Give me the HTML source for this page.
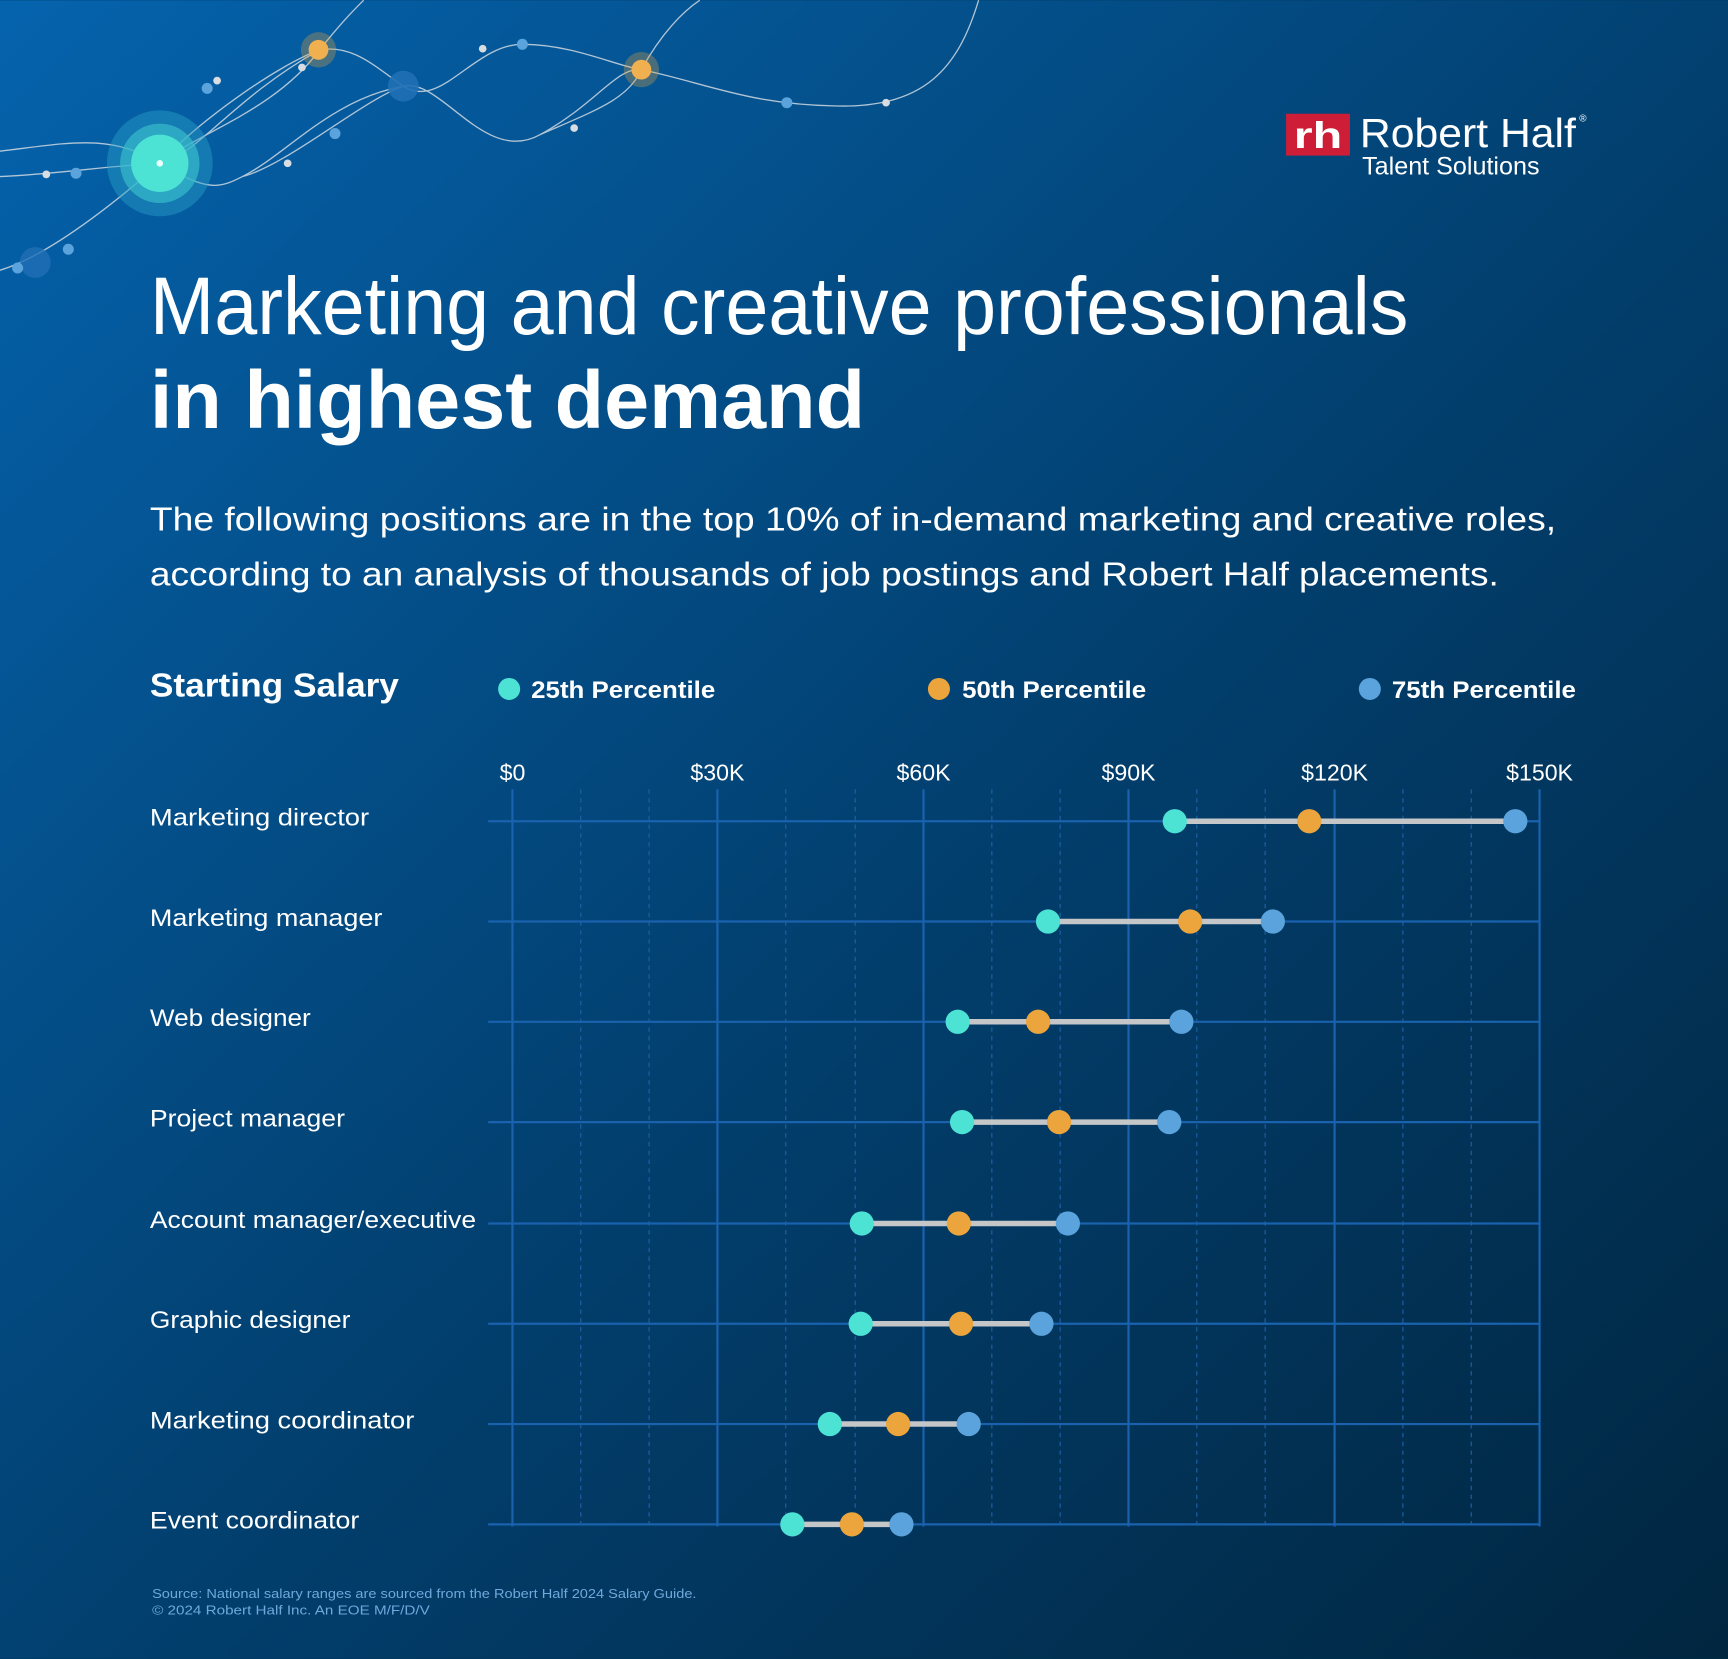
<!DOCTYPE html>
<html><head><meta charset="utf-8"><style>html,body{margin:0;padding:0;background:#013150}svg{display:block}text{font-family:"Liberation Sans","DejaVu Sans",sans-serif;fill:#fff}</style></head>
<body>
<svg width="1728" height="1659" viewBox="0 0 1568 1505" xmlns="http://www.w3.org/2000/svg">
<defs>
<linearGradient id="bg" x1="0" y1="0" x2="1" y2="1">
<stop offset="0" stop-color="#0563ad"/><stop offset="0.55" stop-color="#023e6c"/><stop offset="1" stop-color="#012640"/>
</linearGradient>
</defs>
<rect width="1568" height="1505" fill="url(#bg)"/>
<g fill="none" stroke="#cfd8e0" stroke-width="1.2" opacity="0.85">
<path d="M0,137 C60,130 100,120 145,148 C190,175 200,170 220,160 C260,140 300,90 366,78 C400,70 440,150 490,122 C540,95 560,60 582,63 C640,75 680,95 760,96 C840,98 870,60 888,0"/>
<path d="M0,160 C50,158 100,150 145,148 C180,140 210,90 290,45 C320,40 340,60 366,78 C400,100 430,40 474,40 C520,40 560,60 582,63"/>
<path d="M0,245 C50,230 120,170 145,148 C180,110 250,60 290,45"/>
<path d="M145,148 C180,120 250,100 290,45 C310,20 320,10 330,0"/>
<path d="M220,160 C260,150 330,90 366,78"/>
<path d="M490,122 C540,100 570,90 582,63 C600,30 620,10 635,0"/>
</g>
<circle cx="145" cy="148" r="48" fill="#2aa0c8" opacity="0.45"/>
<circle cx="145" cy="148" r="36" fill="#38bccc" opacity="0.7"/>
<circle cx="145" cy="148" r="26" fill="#4de3d4"/>
<circle cx="145" cy="148" r="3" fill="#e8fffc"/>
<circle cx="289" cy="45" r="16" fill="#eba53c" opacity="0.3"/>
<circle cx="289" cy="45" r="9" fill="#f0b050"/>
<circle cx="582" cy="63" r="16" fill="#eba53c" opacity="0.3"/>
<circle cx="582" cy="63" r="9" fill="#f0b050"/>
<circle cx="366" cy="78" r="14" fill="#1f6fb5" opacity="0.9"/>
<circle cx="32" cy="238" r="14" fill="#1f6fb5" opacity="0.8"/>
<g fill="#5aa3dc"><circle cx="188" cy="80" r="5"/><circle cx="69" cy="157" r="5"/><circle cx="304" cy="121" r="5"/><circle cx="474" cy="40" r="5"/><circle cx="714" cy="93" r="5"/><circle cx="62" cy="226" r="5"/><circle cx="16" cy="243" r="5"/></g>
<g fill="#d8dde2"><circle cx="197" cy="73" r="3.5"/><circle cx="42" cy="158" r="3.5"/><circle cx="274" cy="61" r="3.5"/><circle cx="261" cy="148" r="3.5"/><circle cx="438" cy="44" r="3.5"/><circle cx="521" cy="116" r="3.5"/><circle cx="804" cy="93" r="3.5"/></g>
<rect x="1167" y="103" width="58" height="38" fill="#ce1e37"/>
<text x="1196" y="134" text-anchor="middle" font-size="34" font-weight="bold" textLength="44" lengthAdjust="spacingAndGlyphs">rh</text>
<text x="1234" y="133" font-size="37" textLength="196" lengthAdjust="spacingAndGlyphs">Robert Half</text>
<text x="1433" y="110" font-size="9">®</text>
<text x="1236" y="158" font-size="23" textLength="161" lengthAdjust="spacingAndGlyphs">Talent Solutions</text>
<text x="136" y="303" font-size="74" textLength="1142" lengthAdjust="spacingAndGlyphs" style="font-weight:300">Marketing and creative professionals</text>
<text x="136" y="388" font-size="74" font-weight="bold" textLength="649" lengthAdjust="spacingAndGlyphs">in highest demand</text>
<text x="136" y="481" font-size="30" textLength="1276" lengthAdjust="spacingAndGlyphs">The following positions are in the top 10% of in-demand marketing and creative roles,</text>
<text x="136" y="531" font-size="30" textLength="1224" lengthAdjust="spacingAndGlyphs">according to an analysis of thousands of job postings and Robert Half placements.</text>
<text x="136" y="632" font-size="30" font-weight="bold" textLength="226" lengthAdjust="spacingAndGlyphs">Starting Salary</text>
<circle cx="462" cy="625" r="10" fill="#4de3d4"/><text x="482" y="633" font-size="22" font-weight="bold" textLength="167" lengthAdjust="spacingAndGlyphs">25th Percentile</text>
<circle cx="852" cy="625" r="10" fill="#eba53c"/><text x="873" y="633" font-size="22" font-weight="bold" textLength="167" lengthAdjust="spacingAndGlyphs">50th Percentile</text>
<circle cx="1243" cy="625" r="10" fill="#5aa3dc"/><text x="1263" y="633" font-size="22" font-weight="bold" textLength="167" lengthAdjust="spacingAndGlyphs">75th Percentile</text>
<g stroke="#1f62a8" stroke-width="1" stroke-dasharray="4 4">
<line x1="527" y1="716" x2="527" y2="1385"/><line x1="589" y1="716" x2="589" y2="1385"/>
<line x1="713" y1="716" x2="713" y2="1385"/><line x1="776" y1="716" x2="776" y2="1385"/>
<line x1="900" y1="716" x2="900" y2="1385"/><line x1="962" y1="716" x2="962" y2="1385"/>
<line x1="1086" y1="716" x2="1086" y2="1385"/><line x1="1148" y1="716" x2="1148" y2="1385"/>
<line x1="1273" y1="716" x2="1273" y2="1385"/><line x1="1335" y1="716" x2="1335" y2="1385"/>
</g>
<g stroke="#1a62ae" stroke-width="2">
<line x1="465" y1="716" x2="465" y2="1385"/><line x1="651" y1="716" x2="651" y2="1385"/><line x1="838" y1="716" x2="838" y2="1385"/><line x1="1024" y1="716" x2="1024" y2="1385"/><line x1="1211" y1="716" x2="1211" y2="1385"/><line x1="1397" y1="716" x2="1397" y2="1385"/>
<line x1="443" y1="745" x2="1397" y2="745"/><line x1="443" y1="836" x2="1397" y2="836"/><line x1="443" y1="927" x2="1397" y2="927"/><line x1="443" y1="1018" x2="1397" y2="1018"/><line x1="443" y1="1110" x2="1397" y2="1110"/><line x1="443" y1="1201" x2="1397" y2="1201"/><line x1="443" y1="1292" x2="1397" y2="1292"/><line x1="443" y1="1383" x2="1397" y2="1383"/>
</g>
<g font-size="21" text-anchor="middle">
<text x="465" y="708">$0</text><text x="651" y="708">$30K</text><text x="838" y="708">$60K</text><text x="1024" y="708">$90K</text><text x="1211" y="708">$120K</text><text x="1397" y="708">$150K</text>
</g>
<g font-size="22">
<text x="136" y="749" textLength="199" lengthAdjust="spacingAndGlyphs">Marketing director</text>
<text x="136" y="840" textLength="211" lengthAdjust="spacingAndGlyphs">Marketing manager</text>
<text x="136" y="931" textLength="146" lengthAdjust="spacingAndGlyphs">Web designer</text>
<text x="136" y="1022" textLength="177" lengthAdjust="spacingAndGlyphs">Project manager</text>
<text x="136" y="1114" textLength="296" lengthAdjust="spacingAndGlyphs">Account manager/executive</text>
<text x="136" y="1205" textLength="182" lengthAdjust="spacingAndGlyphs">Graphic designer</text>
<text x="136" y="1296" textLength="240" lengthAdjust="spacingAndGlyphs">Marketing coordinator</text>
<text x="136" y="1387" textLength="190" lengthAdjust="spacingAndGlyphs">Event coordinator</text>
</g>
<g stroke="#c4c6c8" stroke-width="5">
<line x1="1066" y1="745" x2="1375" y2="745"/><line x1="951" y1="836" x2="1155" y2="836"/><line x1="869" y1="927" x2="1072" y2="927"/><line x1="873" y1="1018" x2="1061" y2="1018"/><line x1="782" y1="1110" x2="969" y2="1110"/><line x1="781" y1="1201" x2="945" y2="1201"/><line x1="753" y1="1292" x2="879" y2="1292"/><line x1="719" y1="1383" x2="818" y2="1383"/>
</g>
<g fill="#4de3d4"><circle cx="1066" cy="745" r="11"/><circle cx="951" cy="836" r="11"/><circle cx="869" cy="927" r="11"/><circle cx="873" cy="1018" r="11"/><circle cx="782" cy="1110" r="11"/><circle cx="781" cy="1201" r="11"/><circle cx="753" cy="1292" r="11"/><circle cx="719" cy="1383" r="11"/></g>
<g fill="#eba53c"><circle cx="1188" cy="745" r="11"/><circle cx="1080" cy="836" r="11"/><circle cx="942" cy="927" r="11"/><circle cx="961" cy="1018" r="11"/><circle cx="870" cy="1110" r="11"/><circle cx="872" cy="1201" r="11"/><circle cx="815" cy="1292" r="11"/><circle cx="773" cy="1383" r="11"/></g>
<g fill="#5aa3dc"><circle cx="1375" cy="745" r="11"/><circle cx="1155" cy="836" r="11"/><circle cx="1072" cy="927" r="11"/><circle cx="1061" cy="1018" r="11"/><circle cx="969" cy="1110" r="11"/><circle cx="945" cy="1201" r="11"/><circle cx="879" cy="1292" r="11"/><circle cx="818" cy="1383" r="11"/></g>
<text x="138" y="1450" font-size="12" textLength="494" lengthAdjust="spacingAndGlyphs" style="fill:#6fa8dc">Source: National salary ranges are sourced from the Robert Half 2024 Salary Guide.</text>
<text x="138" y="1465" font-size="12" textLength="252" lengthAdjust="spacingAndGlyphs" style="fill:#6fa8dc">© 2024 Robert Half Inc. An EOE M/F/D/V</text>
</svg>
</body></html>
